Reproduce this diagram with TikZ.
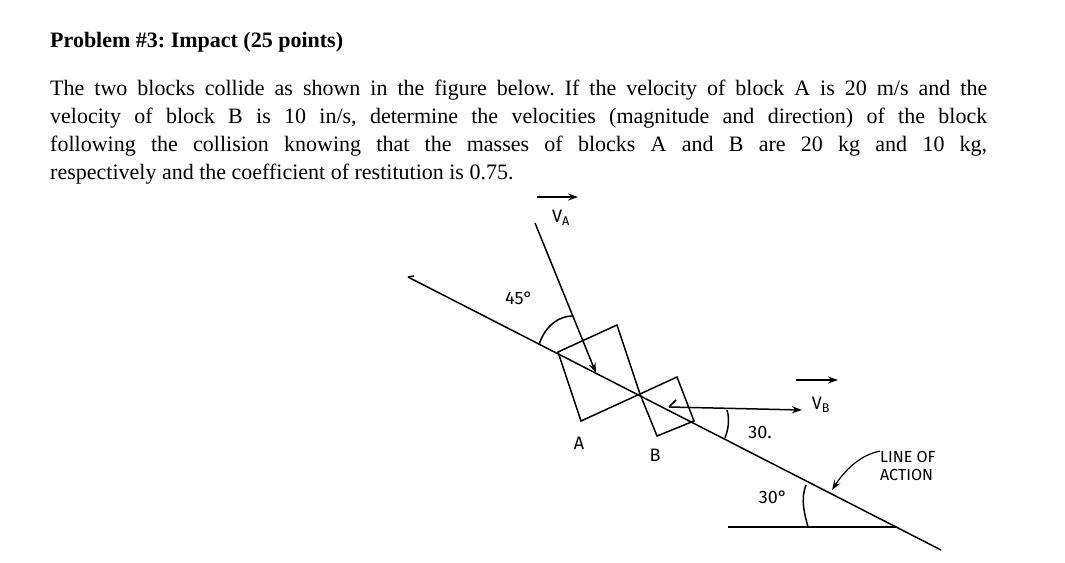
\documentclass[tikz,border=0pt]{standalone}
\usetikzlibrary{arrows.meta}
\usepackage{fontspec}
\setmainfont{Liberation Serif}
\newfontfamily\hand{Fira Sans}
\frenchspacing
\begin{document}
\begin{tikzpicture}[x=1pt,y=-1pt,
  txt/.style={anchor=base west,inner sep=0pt,font=\fontsize{22}{28}\selectfont},
  hw/.style={inner sep=0pt,font=\hand\fontsize{18}{18}\selectfont},
  ln/.style={line width=1.5pt},
  arr/.style={ln,-{Stealth[length=10pt,width=7pt]}}]
\useasboundingbox (0,0) rectangle (1065,562);
\node[txt,font=\bfseries\fontsize{22}{28}\selectfont] (t) at (50,47) {Problem \#3: Impact (25 points)};
\node[txt] (l1) at (50,95) {\makebox[937pt][s]{The two blocks collide as shown in the figure below. If the velocity of block A is 20 m/s and the}};
\node[txt] (l2) at (50,123) {\makebox[937pt][s]{velocity of block B is 10 in/s, determine the velocities (magnitude and direction) of the block}};
\node[txt] (l3) at (50,151) {\makebox[937pt][s]{following the collision knowing that the masses of blocks A and B are 20 kg and 10 kg,}};
\node[txt] (l4) at (50,179) {respectively and the coefficient of restitution is 0.75.};
% line of action
\coordinate (L1) at (408,277);
\coordinate (L2) at (941,550);
\coordinate (C) at (640,394);
\draw[ln] (L1) -- (L2);
\draw[ln] (L1) -- ++(6,-1);
% block A
\draw[ln] (558,352) -- (617,325) -- (C) -- (581,421) -- cycle;
% block B
\draw[ln] (C) -- (677,377) -- (694,421) -- (657,436) -- cycle;
% VA
\coordinate (VA1) at (535,223);
\coordinate (VA2) at (596,373);
\draw[arr] (VA1) -- (VA2);
\node[hw] (va) at (561,218) {V\textsubscript{A}};
\draw[arr,line width=1.2pt] (537,197) -- (578,197);
% 45 arc
\draw[ln] (539,345) .. controls (545,325) and (560,316) .. (572,316);
\node[hw] (a45) at (519,298) {45°};
% VB
\draw[arr] (669,407) -- (802,410);
\draw[ln] (669,407) -- (676,400);
\node[hw] (vb) at (821,405) {V\textsubscript{B}};
\draw[arr,line width=1.2pt] (796,380) -- (838,380);
% 30 arcs
\draw[ln] (727,410) .. controls (730,420) and (728,430) .. (725,438);
\node[hw] (a30a) at (760,432) {30.};
\coordinate (H1) at (728,527);
\coordinate (H2) at (896,527);
\draw[ln] (H1) -- (H2);
\draw[ln] (806,485) .. controls (800,500) and (805,515) .. (808,527);
\node[hw] (a30b) at (773,497) {30°};
\node[hw] (A) at (579,443) {A};
\node[hw] (B) at (655,455) {B};
\node[hw,align=left,anchor=west,font=\hand\fontsize{16}{18}\selectfont] (loa) at (880,466) {LINE OF\\ACTION};
\draw[arr,line width=1.2pt] (loa.north west) .. controls (860,455) and (845,470) .. (832,490);
\end{tikzpicture}
\end{document}
